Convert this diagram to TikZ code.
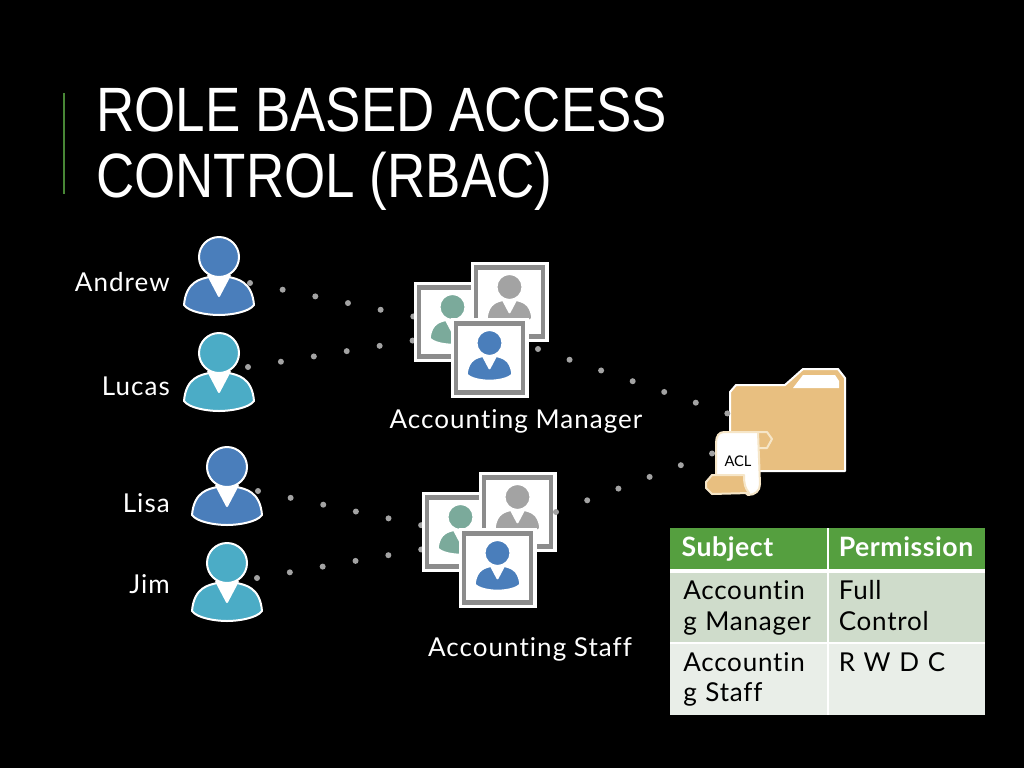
\documentclass[tikz,border=0pt]{standalone}
\usepackage{fontspec}
\setmainfont{Lato}
\newfontfamily\titlefont[FakeStretch=0.845]{Liberation Sans}
\newfontfamily\spacedfont[LetterSpace=4,Ligatures=NoCommon]{Lato}
\newfontfamily\cellfont[LetterSpace=3,Ligatures=NoCommon]{Lato}
\newfontfamily\headfont[LetterSpace=2,Ligatures=NoCommon]{Lato Bold}
\usepackage{xcolor}
\usepackage{tikz}
\definecolor{userblue}{HTML}{4A7EBB}
\definecolor{userteal}{HTML}{4BACC6}
\definecolor{usergreen}{HTML}{7BAA9B}
\definecolor{usergray}{HTML}{A3A3A3}
\definecolor{framegray}{HTML}{8C8C8C}
\definecolor{foldertan}{HTML}{E8BF80}
\definecolor{scrolledge}{HTML}{F6E6C8}
\definecolor{headgreen}{HTML}{559F3F}
\definecolor{rowdark}{HTML}{CFDCCB}
\definecolor{rowlight}{HTML}{E9EEE8}

\begin{document}
\begin{tikzpicture}[
  x=0.75pt, y=-0.75pt,
  personname/.style={font=\spacedfont\fontsize{19.5}{22}\selectfont, text=white, inner sep=0pt},
  groupname/.style={personname, anchor=center},
  dots/.style={draw=usergray, line width=4.5pt, line cap=round, dash pattern=on 0pt off 25pt},
  cell/.style={anchor=north west, align=left, inner xsep=9.75pt, inner ysep=0pt, font=\cellfont\fontsize{19.5}{23}\selectfont, text=black},
  headcell/.style={cell, fill=headgreen, text=white, minimum height=30.75pt, text height=14pt, text depth=2.5pt, font=\headfont\fontsize{20}{23}\selectfont},
  colone/.style={text width=98.25pt},
  coltwo/.style={inner xsep=7.5pt, text width=102.4pt},
  pics/person/.style={code={
    \fill[white] (-12,18) -- (0,41) -- (12,18) -- cycle;
    \filldraw[fill=#1, draw=white, line width=1.5pt, line join=round] (-10,20) -- (0,39) -- (10,20)
      .. controls (18,22) and (33,24) .. (35,48)
      .. controls (30,55) and (12,58) .. (0,58)
      .. controls (-12,58) and (-30,55) .. (-35,48)
      .. controls (-33,24) and (-18,22) .. cycle;
    \filldraw[fill=#1, draw=white, line width=1.5pt] (0,0) circle[radius=20];
  }},
  pics/photo/.style={code={
    \fill[white] (-39,-40) rectangle (39,40);
    \draw[framegray, line width=3.4pt] (-33.5,-34.5) rectangle (33.5,34.5);
    \pic[scale=0.65] at (0,-15) {person=#1};
  }},
  pics/rolegroup/.style={code={
    \pic at (-37,-36) {photo=usergreen};
    \pic at (20,-56) {photo=usergray};
    \pic at (0,0) {photo=userblue};
  }}
]
\fill[black] (0,0) rectangle (1024,768);
\draw[headgreen!85!black, line width=1pt] (64,93) -- (64,194);
\node[anchor=west, inner sep=0pt, font=\titlefont\fontsize{47}{49}\selectfont, text=white, align=left] (title) at (96,149) {ROLE BASED ACCESS\\CONTROL (RBAC)};

% connector ends
\coordinate (andrew out) at (250,283);
\coordinate (lucas out) at (248,367);
\coordinate (lisa out) at (258,491);
\coordinate (jim out) at (257,578);
\coordinate (manager in a) at (416,317);
\coordinate (manager in b) at (416,340);
\coordinate (staff in a) at (425,526);
\coordinate (staff in b) at (424,549);
\coordinate (manager out) at (538,349);
\coordinate (staff out) at (556,512);
\coordinate (folder in) at (732,415);
\coordinate (acl in) at (716,452);

\draw[dots] (andrew out) -- (manager in a);
\draw[dots] (lucas out) -- (manager in b);
\draw[dots] (lisa out) -- (staff in a);
\draw[dots] (jim out) -- (staff in b);

\pic (andrew) at (219,257) {person=userblue};
\pic (lucas) at (219,353) {person=userteal};
\pic (lisa) at (227,467) {person=userblue};
\pic (jim) at (227,563) {person=userteal};

\node[personname, anchor=east] (andrewname) at (170,282) {Andrew};
\node[personname, anchor=east] (lucasname) at (170,386) {Lucas};
\node[personname, anchor=east] (lisaname) at (170,503) {Lisa};
\node[personname, anchor=east] (jimname) at (170,584) {Jim};

\pic (manager) at (489.5,358) {rolegroup};
\pic (staff) at (497.5,568) {rolegroup};
\node[groupname] (managername) at (516,421) {Accounting Manager};
\node[groupname] (staffname) at (530,649) {Accounting Staff};

% folder
\filldraw[fill=foldertan, draw=white, line width=1.5pt, line join=round] (730,392) -- (736,385) -- (785,385) -- (803,369) -- (838,369) -- (845,378) -- (845,471) -- (730,471) -- cycle;
\fill[white] (793,388) -- (803,375) -- (835,375) -- (839,381) -- (839,388) -- cycle;
% scroll
\filldraw[fill=foldertan, draw=scrolledge, line width=1.5pt, line join=round] (756,432) -- (767,432) -- (772,439) -- (767,448) -- (756,448) -- cycle;
\filldraw[fill=white, draw=scrolledge, line width=1.5pt, line join=round] (716,476) -- (716,443) .. controls (716,436) and (719,432) .. (724,432) -- (758,432) -- (760,484) .. controls (760,491) and (755,495) .. (748,495) -- (730,480) -- cycle;
\filldraw[fill=foldertan, draw=scrolledge, line width=1.5pt, line join=round] (706,482) -- (712,475) -- (744,475) .. controls (744,484) and (745,488) .. (749,493) -- (712,494) -- (706,488) -- cycle;
\node[inner sep=0pt, font=\fontsize{11}{13}\selectfont, text=black] (aclname) at (738,461) {ACL};

\draw[dots] (manager out) -- (folder in);
\draw[dots] (staff out) -- (acl in);

% table
\fill[white] (670,528) rectangle (985,715);
\node[headcell, colone, inner xsep=8.5pt, text width=100.75pt] (subject) at (670,528) {Subject};
\node[headcell, coltwo] (permission) at (828.5,528) {Permission};
\node[cell, colone, fill=rowdark, minimum height=51.5pt] (managerrow) at (670,573) {Accountin\\g Manager};
\node[cell, coltwo, fill=rowdark, minimum height=51.5pt] (fullcontrol) at (828.5,573) {Full\\Control\vphantom{g}};
\node[cell, colone, fill=rowlight, minimum height=53.5pt] (staffrow) at (670,643.5) {Accountin\\g Staff};
\node[cell, coltwo, fill=rowlight, minimum height=53.5pt] (rwdc) at (828.5,643.5) {R W D C\\\vphantom{g}};
\end{tikzpicture}
\end{document}
